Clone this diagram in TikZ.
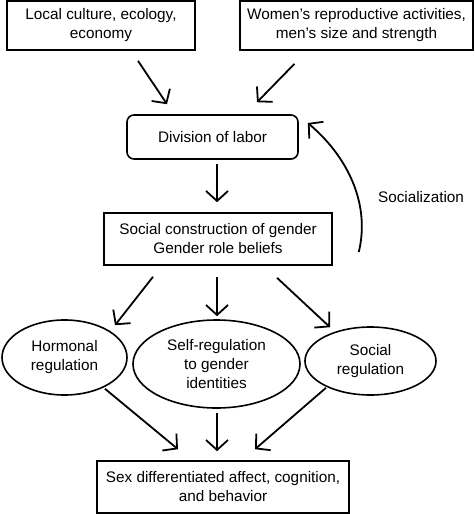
\documentclass[tikz,border=0pt]{standalone}
\usepackage{fontspec}
\setmainfont{Liberation Sans}
\usetikzlibrary{shapes.geometric,arrows.meta}

\begin{document}
\begin{tikzpicture}[x=1pt, y=-1pt,
  box/.style={draw, line width=1.6pt, align=center, inner sep=0pt},
  oval/.style={draw, ellipse, line width=1.6pt, align=center, inner sep=0pt},
  arr/.style={line width=1.8pt, -{Straight Barb[length=10pt,width=22pt,line width=1.8pt]}},
  every node/.style={font=\fontsize{15.3}{19}\selectfont}]
\useasboundingbox (0,0) rectangle (474,514);

% Draw the sources
\node[box, minimum width=188pt, minimum height=49pt] (cult) at (101,25.5) {Local culture, ecology,\\economy};
\node[box, minimum width=233pt, minimum height=49pt] (repro) at (356.5,25.5) {Women’s reproductive activities,\\men’s size and strength};

% Draw the middle boxes
\node[box, rounded corners=7pt, minimum width=171pt, minimum height=44pt] (labor) at (212.5,137) {Division of labor};
\node[box, minimum width=228pt, minimum height=52pt] (gender) at (218,239) {Social construction of gender\\Gender role beliefs};
\node (socl) at (421,197) {Socialization};

% Draw the regulations
\node[oval, minimum width=125pt, minimum height=75pt] (horm) at (64.5,357.5) {Hormonal\\regulation};
\node[oval, minimum width=167pt, minimum height=88pt] (self) at (216.5,364) {Self-regulation\\to gender\\identities};
\node[oval, minimum width=131pt, minimum height=68pt] (soc) at (370.5,361) {Social\\regulation};

% Draw the outcome
\node[box, minimum width=252pt, minimum height=52pt] (sexd) at (223,487) {Sex differentiated affect, cognition,\\and behavior};

% Draw the arrows
\draw[arr] ([shift={(37,10)}]cult.south) -- ([shift={(-45.5,-10)}]labor.north);
\draw[arr] ([shift={(-62,13)}]repro.south) -- ([shift={(44.5,-12)}]labor.north);
\draw[arr] ([shift={(4.5,4)}]labor.south) -- ([shift={(-1,-10)}]gender.north);
\draw[arr] ([shift={(26,13)}]gender.east) .. controls +(12,-50) and +(38,32) .. ([shift={(9,-14)}]labor.east);

\draw[arr] ([shift={(-65,11)}]gender.south) -- ([shift={(50.5,6)}]horm.north);
\draw[arr] ([shift={(-1,11)}]gender.south) -- ([shift={(0.5,-3)}]self.north);
\draw[arr] ([shift={(59,12)}]gender.south) -- ([shift={(-40.5,1)}]soc.north);

\draw[arr] ([shift={(40.5,-7)}]horm.south) -- ([shift={(-45,-11)}]sexd.north);
\draw[arr] ([shift={(0.5,4)}]self.south) -- ([shift={(-6,-9)}]sexd.north);
\draw[arr] ([shift={(-44.5,-8)}]soc.south) -- ([shift={(32,-11)}]sexd.north);
\end{tikzpicture}
\end{document}
